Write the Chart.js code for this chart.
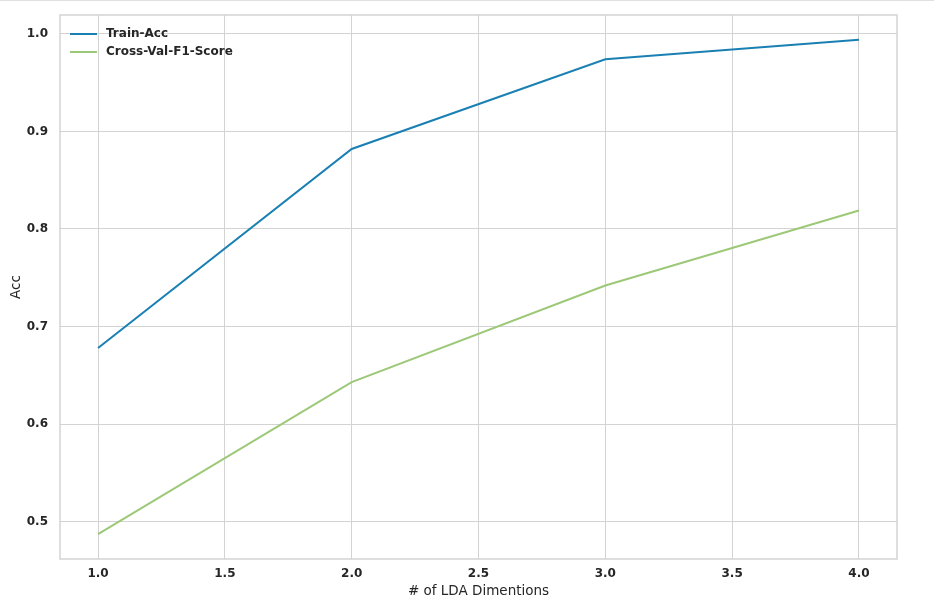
<!DOCTYPE html>
<html>
<head>
<meta charset="utf-8">
<script src="https://cdn.jsdelivr.net/npm/chart.js@4.4.1/dist/chart.umd.min.js"></script>
<style>
  html, body { margin: 0; padding: 0; background: #fff; }
  #wrap { width: 934px; height: 601px; position: relative; }
  #topline { position: absolute; left: 0; top: 0; width: 934px; height: 1px; background: #e0e0e0; }
</style>
</head>
<body>
<div id="wrap">
  <div id="topline"></div>
  <canvas id="acc-graph" width="934" height="601"></canvas>
</div>
<script>
const ldaDims = [1, 2, 3, 4];
const trainAcc = [0.678, 0.882, 0.974, 0.994];
const cvF1 = [0.487, 0.643, 0.742, 0.819];
const xTicks = [1.0, 1.5, 2.0, 2.5, 3.0, 3.5, 4.0];
const yTicks = [0.5, 0.6, 0.7, 0.8, 0.9, 1.0];

const seriesColors = ["#1a80b3", "#9dc878"];
const gridColor = "#d3d3d3";
const tickFont = { family: "DejaVu Sans", size: 12, weight: "bold" };

const toPoints = (vals) => vals.map((v, i) => ({ x: ldaDims[i], y: v }));

// frame around the plot + legend in the top-left corner
const framePlugin = {
  id: "frame",
  afterDraw(chart) {
    const { ctx, chartArea: a } = chart;
    ctx.save();
    ctx.strokeStyle = gridColor;
    ctx.lineWidth = 1.5;
    ctx.strokeRect(a.left, a.top, a.right - a.left, a.bottom - a.top);

    chart.data.datasets.forEach((ds, i) => {
      const y = a.top + 19 + i * 18;
      ctx.strokeStyle = ds.borderColor;
      ctx.lineWidth = 2;
      ctx.beginPath();
      ctx.moveTo(a.left + 10, y);
      ctx.lineTo(a.left + 37, y);
      ctx.stroke();
      ctx.fillStyle = "#262626";
      ctx.font = "bold 12px 'DejaVu Sans'";
      ctx.textBaseline = "middle";
      ctx.fillText(ds.label, a.left + 46, y);
    });
    ctx.restore();
  },
};

const ctx = document.querySelector("#acc-graph");

new Chart(ctx, {
  type: "line",
  data: {
    datasets: [
      {
        label: "Train-Acc",
        data: toPoints(trainAcc),
        borderColor: seriesColors[0],
        borderWidth: 2,
        pointRadius: 0,
        tension: 0,
      },
      {
        label: "Cross-Val-F1-Score",
        data: toPoints(cvF1),
        borderColor: seriesColors[1],
        borderWidth: 2,
        pointRadius: 0,
        tension: 0,
      },
    ],
  },
  options: {
    responsive: false,
    animation: false,
    layout: { padding: { top: 15, right: 37, bottom: 0, left: 0 } },
    plugins: {
      legend: { display: false },
      tooltip: { enabled: false },
    },
    scales: {
      x: {
        type: "linear",
        min: 0.85,
        max: 4.15,
        afterBuildTicks: (axis) => { axis.ticks = xTicks.map(v => ({ value: v })); },
        afterFit: (axis) => {
          axis.height = 42;
          axis.paddingLeft = 0;
          axis.paddingRight = 0;
        },
        grid: { color: gridColor, lineWidth: 1, drawTicks: false },
        border: { display: false },
        ticks: {
          color: "#262626",
          font: tickFont,
          padding: 8,
          callback: (v) => v.toFixed(1),
        },
        title: {
          display: true,
          text: "# of LDA Dimentions",
          color: "#262626",
          font: { family: "DejaVu Sans", size: 13.5 },
          padding: { top: 0, bottom: 1 },
        },
      },
      y: {
        type: "linear",
        min: 0.4616,
        max: 1.0194,
        afterBuildTicks: (axis) => { axis.ticks = yTicks.map(v => ({ value: v })); },
        afterFit: (axis) => {
          axis.width = 60;
          axis.paddingTop = 0;
          axis.paddingBottom = 0;
        },
        grid: { color: gridColor, lineWidth: 1, drawTicks: false },
        border: { display: false },
        ticks: {
          color: "#262626",
          font: tickFont,
          padding: 12,
          callback: (v) => v.toFixed(1),
        },
        title: {
          display: true,
          text: "Acc",
          color: "#262626",
          font: { family: "DejaVu Sans", size: 13.5 },
          padding: { top: 8, bottom: 0 },
        },
      },
    },
  },
  plugins: [framePlugin],
});
</script>
</body>
</html>
